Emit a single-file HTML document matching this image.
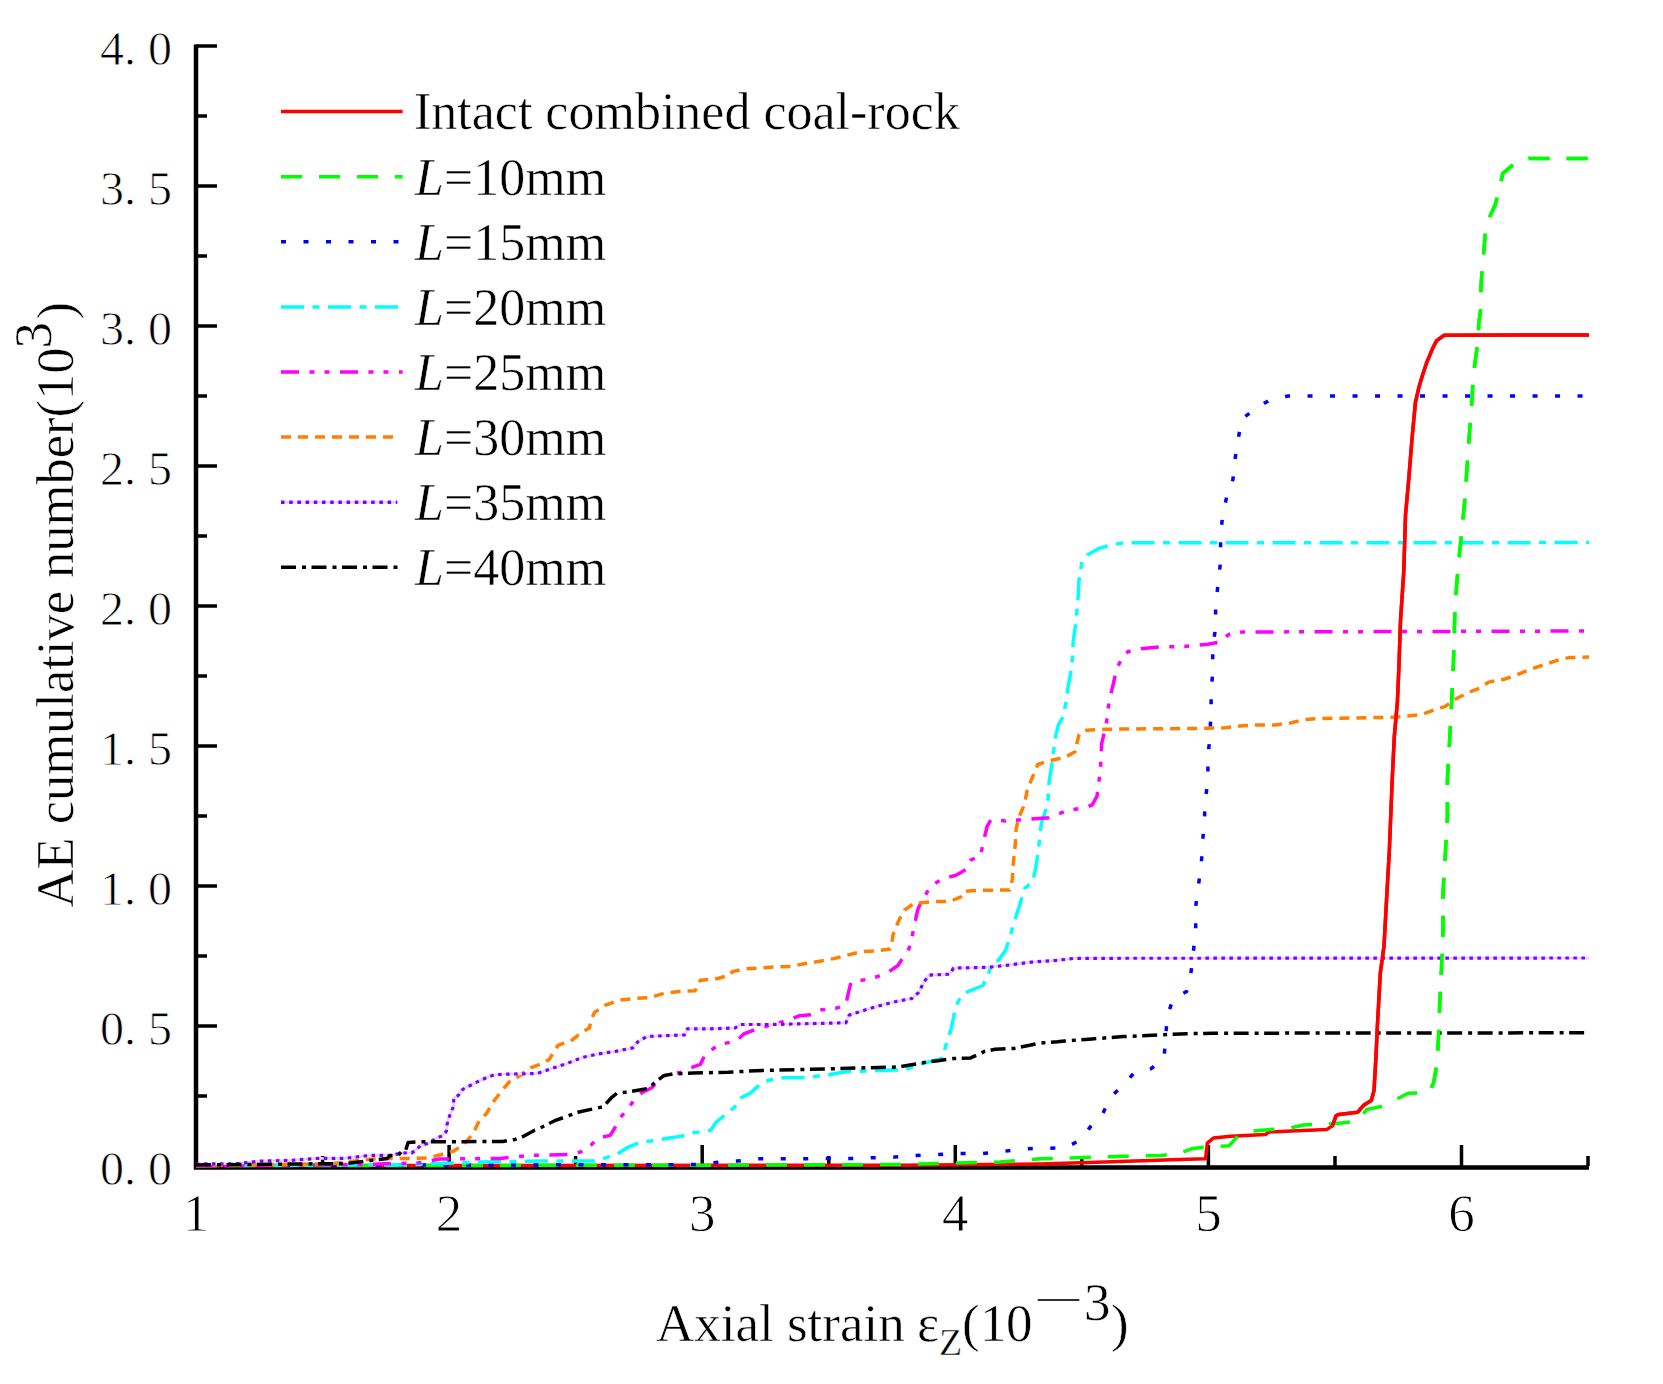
<!DOCTYPE html>
<html><head><meta charset="utf-8"><title>AE cumulative number vs axial strain</title>
<style>html,body{margin:0;padding:0;background:#fff;}svg{display:block;}</style>
</head><body>
<svg width="1663" height="1384" viewBox="0 0 1663 1384">
<rect width="1663" height="1384" fill="#fff"/>
<path d="M196,44.5 V1167.5 H1589" stroke="#000" stroke-width="4.5" fill="none" stroke-linejoin="miter"/>
<path d="M196,1166.0 H217 M196,1026.0 H217 M196,886.0 H217 M196,746.0 H217 M196,606.0 H217 M196,466.0 H217 M196,326.0 H217 M196,186.0 H217 M196,46.0 H217 M196,1096.0 H207 M196,956.0 H207 M196,816.0 H207 M196,676.0 H207 M196,536.0 H207 M196,396.0 H207 M196,256.0 H207 M196,116.0 H207 M196.0,1166 V1145 M449.1,1166 V1145 M702.2,1166 V1145 M955.3,1166 V1145 M1208.4,1166 V1145 M1461.5,1166 V1145 M322.6,1166 V1156 M575.6,1166 V1156 M828.8,1166 V1156 M1081.8,1166 V1156 M1335.0,1166 V1156 M1588.0,1166 V1156" stroke="#000" stroke-width="3.5" fill="none"/>
<polyline points="196.0,1165.5 900.0,1165.3 1040.0,1164.0 1097.0,1162.3 1172.0,1159.7 1205.6,1158.8 1207.3,1143.2 1213.4,1138.0 1230.7,1136.3 1265.4,1134.6 1268.8,1132.0 1291.4,1131.1 1327.0,1129.4 1332.5,1125.7 1336.0,1115.8 1338.8,1114.4 1357.7,1112.2 1364.0,1105.0 1371.3,1100.5 1374.0,1090.6 1375.8,1059.9 1377.6,1022.0 1380.3,973.3 1384.0,946.0 1386.7,897.1 1389.3,851.6 1392.1,782.2 1394.3,736.7 1397.4,702.0 1399.0,664.5 1400.5,620.8 1403.8,571.0 1405.5,515.0 1408.8,478.6 1412.0,438.9 1415.4,402.5 1419.2,386.2 1422.5,375.3 1426.8,362.3 1432.2,349.3 1436.6,340.6 1444.2,335.2 1589.0,335.0" fill="none" stroke="#ff0000" stroke-width="3.5" stroke-linejoin="round"/>
<polyline points="196.0,1165.5 700.0,1165.3 900.0,1164.5 1000.0,1162.0 1040.0,1158.8 1123.2,1156.3 1161.4,1155.4 1178.7,1153.6 1192.6,1148.4 1209.9,1146.7 1229.0,1145.8 1237.6,1136.3 1251.5,1131.1 1270.6,1129.4 1287.9,1128.5 1303.5,1125.0 1320.0,1124.2 1341.5,1123.0 1356.8,1121.2 1366.8,1109.5 1381.2,1106.4 1395.6,1099.6 1408.2,1093.3 1429.0,1092.4 1433.5,1083.3 1437.1,1063.5 1438.9,1029.2 1439.8,1002.2 1441.6,966.0 1443.0,931.8 1443.0,892.8 1445.2,856.0 1447.4,817.0 1447.4,780.0 1449.6,741.0 1451.7,699.9 1453.4,663.8 1455.1,604.2 1458.4,564.6 1461.7,531.5 1465.0,498.4 1468.3,448.8 1472.0,399.2 1473.4,375.3 1475.6,358.0 1477.8,342.8 1478.8,323.3 1481.0,307.0 1481.0,286.4 1482.1,270.2 1483.8,251.7 1485.3,233.3 1488.6,219.2 1495.1,205.1 1499.4,188.9 1502.7,173.7 1513.5,164.4 1528.7,158.5 1589.0,158.5" fill="none" stroke="#00ff00" stroke-width="3.5" stroke-dasharray="21 17" stroke-linejoin="round"/>
<polyline points="196.0,1165.5 694.0,1164.6 715.9,1162.4 737.5,1161.0 757.7,1158.8 780.8,1158.8 849.3,1158.5 894.4,1157.1 915.2,1155.4 936.9,1154.5 958.6,1153.6 981.1,1153.6 1001.9,1151.6 1022.7,1148.8 1043.5,1148.4 1066.0,1147.6 1080.7,1139.8 1091.1,1125.9 1102.4,1114.6 1110.2,1097.3 1122.4,1086.0 1133.6,1073.5 1151.0,1068.7 1164.0,1058.3 1165.7,1036.6 1167.4,1015.0 1173.5,998.5 1186.5,991.5 1190.8,974.2 1193.4,951.7 1195.7,929.0 1195.7,906.6 1198.5,885.0 1201.4,864.3 1202.3,843.7 1204.2,824.9 1205.1,802.3 1207.9,779.8 1207.9,756.3 1209.8,738.5 1210.8,716.0 1211.3,692.7 1212.7,671.0 1212.7,648.7 1215.6,627.0 1215.6,603.8 1218.5,581.4 1220.7,559.8 1220.5,537.3 1222.6,515.6 1226.9,496.0 1232.9,479.6 1235.2,458.0 1238.5,437.2 1241.8,419.0 1255.0,409.0 1268.3,400.9 1288.0,396.0 1589.0,396.0" fill="none" stroke="#0000ff" stroke-width="3.5" stroke-dasharray="5 17.5" stroke-linejoin="round"/>
<polyline points="196.0,1165.5 400.0,1165.0 480.0,1162.0 540.0,1161.0 593.2,1161.0 604.7,1158.1 617.7,1153.8 627.8,1147.3 639.6,1142.4 653.5,1140.6 669.1,1138.0 681.2,1136.3 693.4,1132.8 710.7,1130.2 715.9,1122.4 724.6,1115.5 735.0,1106.8 740.2,1098.2 750.6,1093.0 761.0,1083.4 769.7,1080.0 783.5,1077.7 802.5,1077.4 814.7,1076.5 828.5,1074.8 845.9,1071.8 859.8,1071.3 892.7,1070.1 904.8,1070.1 918.7,1064.4 943.0,1058.3 944.7,1049.6 948.2,1037.5 950.8,1030.6 953.4,1018.4 955.1,1008.0 960.3,997.6 963.8,993.3 972.4,989.8 982.8,985.5 988.0,975.1 991.5,964.7 998.4,960.3 1005.4,950.8 1010.0,937.0 1013.4,924.2 1019.0,907.3 1024.6,888.5 1033.1,881.0 1035.9,866.0 1038.7,849.0 1039.7,835.9 1041.5,822.7 1045.3,811.5 1048.1,798.3 1049.0,783.3 1050.9,770.2 1052.8,758.9 1054.7,740.1 1058.4,725.1 1063.1,716.6 1066.0,702.1 1068.2,686.2 1070.4,674.7 1072.5,657.3 1073.2,641.4 1076.1,621.2 1078.3,595.2 1079.0,580.7 1081.9,561.9 1087.7,554.7 1097.8,548.9 1112.3,544.6 1123.8,542.8 1589.0,542.6" fill="none" stroke="#00ffff" stroke-width="3.5" stroke-dasharray="23 8.5 7 8.5" stroke-linejoin="round"/>
<polyline points="196.0,1166.0 364.0,1164.5 384.6,1163.8 418.0,1163.0 440.0,1159.0 500.0,1158.4 528.7,1155.4 572.0,1154.5 580.7,1151.9 591.1,1145.0 598.0,1138.0 610.2,1135.4 617.1,1124.2 620.6,1117.2 627.5,1109.4 633.6,1100.8 641.4,1093.0 651.8,1087.8 658.7,1080.0 663.9,1075.6 681.2,1072.2 688.2,1068.7 700.3,1064.4 705.5,1054.0 719.4,1044.4 736.7,1041.0 743.6,1034.0 759.3,1028.0 766.2,1026.2 788.7,1020.2 799.1,1015.8 813.0,1014.6 821.6,1009.8 837.2,1008.0 845.9,1004.5 848.5,992.4 851.1,982.0 866.7,979.4 877.1,976.8 889.2,971.6 897.9,965.5 903.1,957.7 909.2,948.2 911.9,937.3 914.7,924.2 917.6,910.1 921.3,901.6 928.8,889.4 934.5,883.8 943.9,878.2 956.1,875.3 965.5,869.7 970.2,860.3 980.5,855.6 983.3,842.5 987.1,826.5 990.8,819.9 1005.8,820.9 1019.0,819.9 1037.8,818.6 1047.2,818.1 1055.6,814.9 1067.8,810.5 1086.6,807.3 1092.2,804.9 1096.9,796.5 1098.8,783.3 1100.7,764.5 1101.6,743.9 1104.5,731.7 1107.3,717.6 1108.5,706.0 1111.0,693.3 1114.0,681.0 1116.6,668.9 1121.7,658.8 1128.2,651.5 1141.2,648.7 1160.0,646.9 1184.6,646.5 1194.7,645.5 1207.7,644.3 1219.2,642.1 1225.0,637.1 1229.4,634.2 1242.4,632.0 1589.0,631.0" fill="none" stroke="#ff00ff" stroke-width="3.5" stroke-dasharray="18 10.5 5 10 5 10.5" stroke-linejoin="round"/>
<polyline points="196.0,1165.5 330.7,1163.8 377.8,1158.4 410.7,1158.4 429.1,1157.8 441.4,1154.5 453.7,1151.0 463.5,1144.3 467.2,1140.6 473.3,1133.2 478.2,1122.8 486.8,1113.0 494.2,1100.7 501.6,1090.9 508.9,1082.3 520.0,1075.5 530.4,1067.8 542.5,1063.5 549.5,1059.2 552.9,1053.1 558.1,1045.3 572.0,1040.1 580.7,1033.2 589.3,1028.0 591.1,1020.2 594.5,1012.4 605.0,1005.4 618.8,1000.2 634.4,998.5 650.0,997.6 663.9,993.3 679.5,991.5 695.1,990.7 700.3,980.3 717.6,978.5 729.8,975.1 732.4,971.6 743.6,969.0 759.3,968.1 774.9,966.9 790.5,966.4 804.3,963.8 819.9,961.2 833.7,958.6 847.6,955.1 861.5,951.7 877.1,950.8 890.1,949.1 891.8,943.0 893.1,934.5 898.8,920.4 904.4,910.1 913.8,903.5 932.6,901.6 949.5,901.6 960.8,896.9 964.5,891.3 973.9,890.4 1009.6,890.0 1012.4,879.1 1013.4,862.2 1015.2,845.3 1016.2,828.4 1019.0,817.1 1024.6,804.0 1027.4,788.9 1033.1,775.8 1037.8,764.5 1049.0,760.8 1066.0,757.0 1075.3,751.4 1077.2,742.0 1079.1,734.5 1086.6,730.3 1105.4,729.2 1207.8,728.3 1225.1,727.8 1242.4,725.8 1257.8,724.9 1275.1,724.9 1290.5,722.9 1304.0,719.7 1319.4,718.5 1369.4,717.7 1395.4,717.2 1421.4,714.6 1432.2,710.7 1445.2,706.4 1456.0,698.8 1469.1,692.3 1479.9,688.0 1488.6,682.1 1503.8,679.3 1516.8,674.9 1529.8,669.5 1542.8,665.2 1555.8,660.8 1568.8,657.6 1589.0,657.0" fill="none" stroke="#ff8000" stroke-width="3.5" stroke-dasharray="10 7" stroke-linejoin="round"/>
<polyline points="196.0,1164.0 236.4,1163.8 260.7,1161.1 290.3,1160.4 317.2,1158.4 344.2,1158.4 371.1,1155.3 391.3,1155.3 402.0,1153.0 411.9,1152.9 416.8,1149.2 420.5,1145.5 426.7,1143.7 431.6,1141.2 436.5,1138.1 442.6,1135.7 446.3,1131.4 446.9,1125.2 448.8,1117.9 451.2,1111.7 453.7,1106.2 453.7,1098.2 458.6,1095.2 461.7,1090.2 466.0,1087.2 472.1,1084.7 477.6,1081.7 483.1,1079.2 488.7,1076.7 494.2,1074.9 502.8,1074.3 527.3,1073.7 537.3,1073.5 551.2,1068.7 566.8,1063.5 582.4,1057.4 598.0,1054.0 615.4,1051.4 632.7,1047.9 637.9,1041.8 646.6,1036.6 662.2,1035.8 684.7,1034.9 687.3,1028.8 710.7,1028.8 735.0,1028.0 740.2,1024.5 771.4,1024.5 845.9,1022.8 849.3,1015.0 863.2,1010.6 877.1,1006.3 897.9,1001.1 911.8,998.5 918.7,992.4 923.9,982.0 929.1,975.1 949.9,974.2 953.4,968.1 988.0,967.3 1005.4,965.5 1031.4,962.1 1057.4,960.3 1064.3,959.5 1074.7,958.3 1589.0,958.0" fill="none" stroke="#e4d0ff" stroke-width="2.6" stroke-linejoin="round"/>
<polyline points="196.0,1164.0 236.4,1163.8 260.7,1161.1 290.3,1160.4 317.2,1158.4 344.2,1158.4 371.1,1155.3 391.3,1155.3 402.0,1153.0 411.9,1152.9 416.8,1149.2 420.5,1145.5 426.7,1143.7 431.6,1141.2 436.5,1138.1 442.6,1135.7 446.3,1131.4 446.9,1125.2 448.8,1117.9 451.2,1111.7 453.7,1106.2 453.7,1098.2 458.6,1095.2 461.7,1090.2 466.0,1087.2 472.1,1084.7 477.6,1081.7 483.1,1079.2 488.7,1076.7 494.2,1074.9 502.8,1074.3 527.3,1073.7 537.3,1073.5 551.2,1068.7 566.8,1063.5 582.4,1057.4 598.0,1054.0 615.4,1051.4 632.7,1047.9 637.9,1041.8 646.6,1036.6 662.2,1035.8 684.7,1034.9 687.3,1028.8 710.7,1028.8 735.0,1028.0 740.2,1024.5 771.4,1024.5 845.9,1022.8 849.3,1015.0 863.2,1010.6 877.1,1006.3 897.9,1001.1 911.8,998.5 918.7,992.4 923.9,982.0 929.1,975.1 949.9,974.2 953.4,968.1 988.0,967.3 1005.4,965.5 1031.4,962.1 1057.4,960.3 1064.3,959.5 1074.7,958.3 1589.0,958.0" fill="none" stroke="#8000ff" stroke-width="3.2" stroke-dasharray="3.5 4.5" stroke-linejoin="round"/>
<polyline points="196.0,1165.0 317.2,1163.8 344.2,1163.8 371.1,1160.4 387.4,1158.4 390.0,1155.7 398.4,1155.3 402.1,1151.0 405.8,1149.8 408.2,1142.4 416.8,1141.8 502.8,1141.5 515.1,1139.4 523.5,1136.3 534.7,1130.2 537.3,1129.4 554.7,1120.7 578.9,1112.0 603.2,1106.8 611.0,1098.2 617.1,1093.0 627.5,1092.1 648.3,1088.6 657.0,1080.8 663.9,1075.6 672.6,1073.9 693.4,1073.0 728.0,1072.2 762.7,1070.4 797.4,1069.6 897.9,1067.0 923.9,1062.6 936.0,1060.9 953.4,1058.6 970.7,1057.9 984.6,1051.4 995.0,1049.3 1014.0,1048.4 1029.7,1045.3 1040.0,1043.0 1057.4,1041.8 1064.3,1041.0 1092.0,1038.9 1123.2,1036.6 1157.9,1034.9 1187.4,1033.7 1213.4,1033.2 1589.0,1032.8" fill="none" stroke="#000000" stroke-width="3.5" stroke-dasharray="15 6 4 5.5" stroke-linejoin="round"/>
<polyline points="1332.5,1125.7 1336.0,1115.8 1338.8,1114.4 1357.7,1112.2 1364.0,1105.0 1371.3,1100.5 1374.0,1090.6 1375.8,1059.9 1377.6,1022.0 1380.3,973.3 1384.0,946.0 1386.7,897.1 1389.3,851.6 1392.1,782.2 1394.3,736.7 1397.4,702.0 1399.0,664.5 1400.5,620.8 1403.8,571.0 1405.5,515.0 1408.8,478.6 1412.0,438.9 1415.4,402.5 1419.2,386.2 1422.5,375.3 1426.8,362.3 1432.2,349.3 1436.6,340.6 1444.2,335.2 1589.0,335.0" fill="none" stroke="#ff0000" stroke-width="3.5" stroke-linejoin="round"/>
<polyline points="1429.0,1092.4 1433.5,1083.3 1437.1,1063.5 1438.9,1029.2 1439.8,1002.2 1441.6,966.0 1443.0,931.8 1443.0,892.8 1445.2,856.0 1447.4,817.0 1447.4,780.0 1449.6,741.0 1451.7,699.9 1453.4,663.8 1455.1,604.2 1458.4,564.6 1461.7,531.5 1465.0,498.4 1468.3,448.8 1472.0,399.2 1473.4,375.3 1475.6,358.0 1477.8,342.8 1478.8,323.3 1481.0,307.0 1481.0,286.4 1482.1,270.2 1483.8,251.7 1485.3,233.3 1488.6,219.2 1495.1,205.1 1499.4,188.9 1502.7,173.7 1513.5,164.4 1528.7,158.5 1589.0,158.5" fill="none" stroke="#00ff00" stroke-width="3.5" stroke-dasharray="21 17" stroke-dashoffset="1248.90" stroke-linejoin="round"/>
<g font-family="Liberation Serif, serif" font-size="48" fill="#000" stroke="#fff" stroke-width="0.8"><text x="172" y="1185.0" text-anchor="end">0. 0</text><text x="172" y="1045.0" text-anchor="end">0. 5</text><text x="172" y="905.0" text-anchor="end">1. 0</text><text x="172" y="765.0" text-anchor="end">1. 5</text><text x="172" y="625.0" text-anchor="end">2. 0</text><text x="172" y="485.0" text-anchor="end">2. 5</text><text x="172" y="345.0" text-anchor="end">3. 0</text><text x="172" y="205.0" text-anchor="end">3. 5</text><text x="172" y="65.0" text-anchor="end">4. 0</text><text x="196.0" y="1231" text-anchor="middle" font-size="53">1</text><text x="449.1" y="1231" text-anchor="middle" font-size="53">2</text><text x="702.2" y="1231" text-anchor="middle" font-size="53">3</text><text x="955.3" y="1231" text-anchor="middle" font-size="53">4</text><text x="1208.4" y="1231" text-anchor="middle" font-size="53">5</text><text x="1461.5" y="1231" text-anchor="middle" font-size="53">6</text></g>
<g transform="translate(73,907.5) rotate(-90)" font-family="Liberation Serif, serif" fill="#000" stroke="#fff" stroke-width="0.5" font-size="53"><text x="0" y="0" textLength="560" lengthAdjust="spacingAndGlyphs">AE cumulative number(10</text><text x="559" y="-22">3</text><text x="588" y="0">)</text></g>
<g font-family="Liberation Serif, serif" fill="#000" stroke="#fff" stroke-width="0.5" font-size="53"><text x="656" y="1341">Axial strain</text><text x="917" y="1341">ε</text><text x="939" y="1355" font-size="38">Z</text><text x="962" y="1341">(</text><text x="980" y="1341">1</text><text x="1006" y="1341">0</text><text x="1038" y="1308.5" font-size="41" fill="#333" stroke="none">—</text><text x="1084" y="1320">3</text><text x="1111" y="1341">)</text></g>
<line x1="281" y1="111.6" x2="402.6" y2="111.6" stroke="#ff0000" stroke-width="3.5"/>
<text x="414" y="129.4" font-family="Liberation Serif, serif" font-size="52" fill="#000" stroke="#fff" stroke-width="0.5">Intact combined coal-rock</text>
<line x1="281" y1="176.7" x2="402.6" y2="176.7" stroke="#00ff00" stroke-width="3.5" stroke-dasharray="21 17"/>
<text x="415" y="194.5" font-family="Liberation Serif, serif" font-size="52" fill="#000" stroke="#fff" stroke-width="0.5"><tspan font-style="italic">L</tspan>=10mm</text>
<line x1="281" y1="241.8" x2="402.6" y2="241.8" stroke="#0000ff" stroke-width="3.5" stroke-dasharray="5 17.5"/>
<text x="415" y="259.6" font-family="Liberation Serif, serif" font-size="52" fill="#000" stroke="#fff" stroke-width="0.5"><tspan font-style="italic">L</tspan>=15mm</text>
<line x1="281" y1="306.9" x2="402.6" y2="306.9" stroke="#00ffff" stroke-width="3.5" stroke-dasharray="23 8.5 7 8.5"/>
<text x="415" y="324.7" font-family="Liberation Serif, serif" font-size="52" fill="#000" stroke="#fff" stroke-width="0.5"><tspan font-style="italic">L</tspan>=20mm</text>
<line x1="281" y1="372.0" x2="402.6" y2="372.0" stroke="#ff00ff" stroke-width="3.5" stroke-dasharray="18 10.5 5 10 5 10.5"/>
<text x="415" y="389.8" font-family="Liberation Serif, serif" font-size="52" fill="#000" stroke="#fff" stroke-width="0.5"><tspan font-style="italic">L</tspan>=25mm</text>
<line x1="281" y1="437.1" x2="394.2" y2="437.1" stroke="#ff8000" stroke-width="3.5" stroke-dasharray="10 7"/>
<text x="415" y="454.9" font-family="Liberation Serif, serif" font-size="52" fill="#000" stroke="#fff" stroke-width="0.5"><tspan font-style="italic">L</tspan>=30mm</text>
<line x1="281" y1="502.2" x2="397.3" y2="502.2" stroke="#e4d0ff" stroke-width="2.6"/>
<line x1="281" y1="502.2" x2="397.3" y2="502.2" stroke="#8000ff" stroke-width="3.5" stroke-dasharray="3.5 4.7"/>
<text x="415" y="520.0" font-family="Liberation Serif, serif" font-size="52" fill="#000" stroke="#fff" stroke-width="0.5"><tspan font-style="italic">L</tspan>=35mm</text>
<line x1="281" y1="567.3" x2="398.4" y2="567.3" stroke="#000000" stroke-width="3.5" stroke-dasharray="15 6 4 5.5"/>
<text x="415" y="585.1" font-family="Liberation Serif, serif" font-size="52" fill="#000" stroke="#fff" stroke-width="0.5"><tspan font-style="italic">L</tspan>=40mm</text>
</svg>
</body></html>
